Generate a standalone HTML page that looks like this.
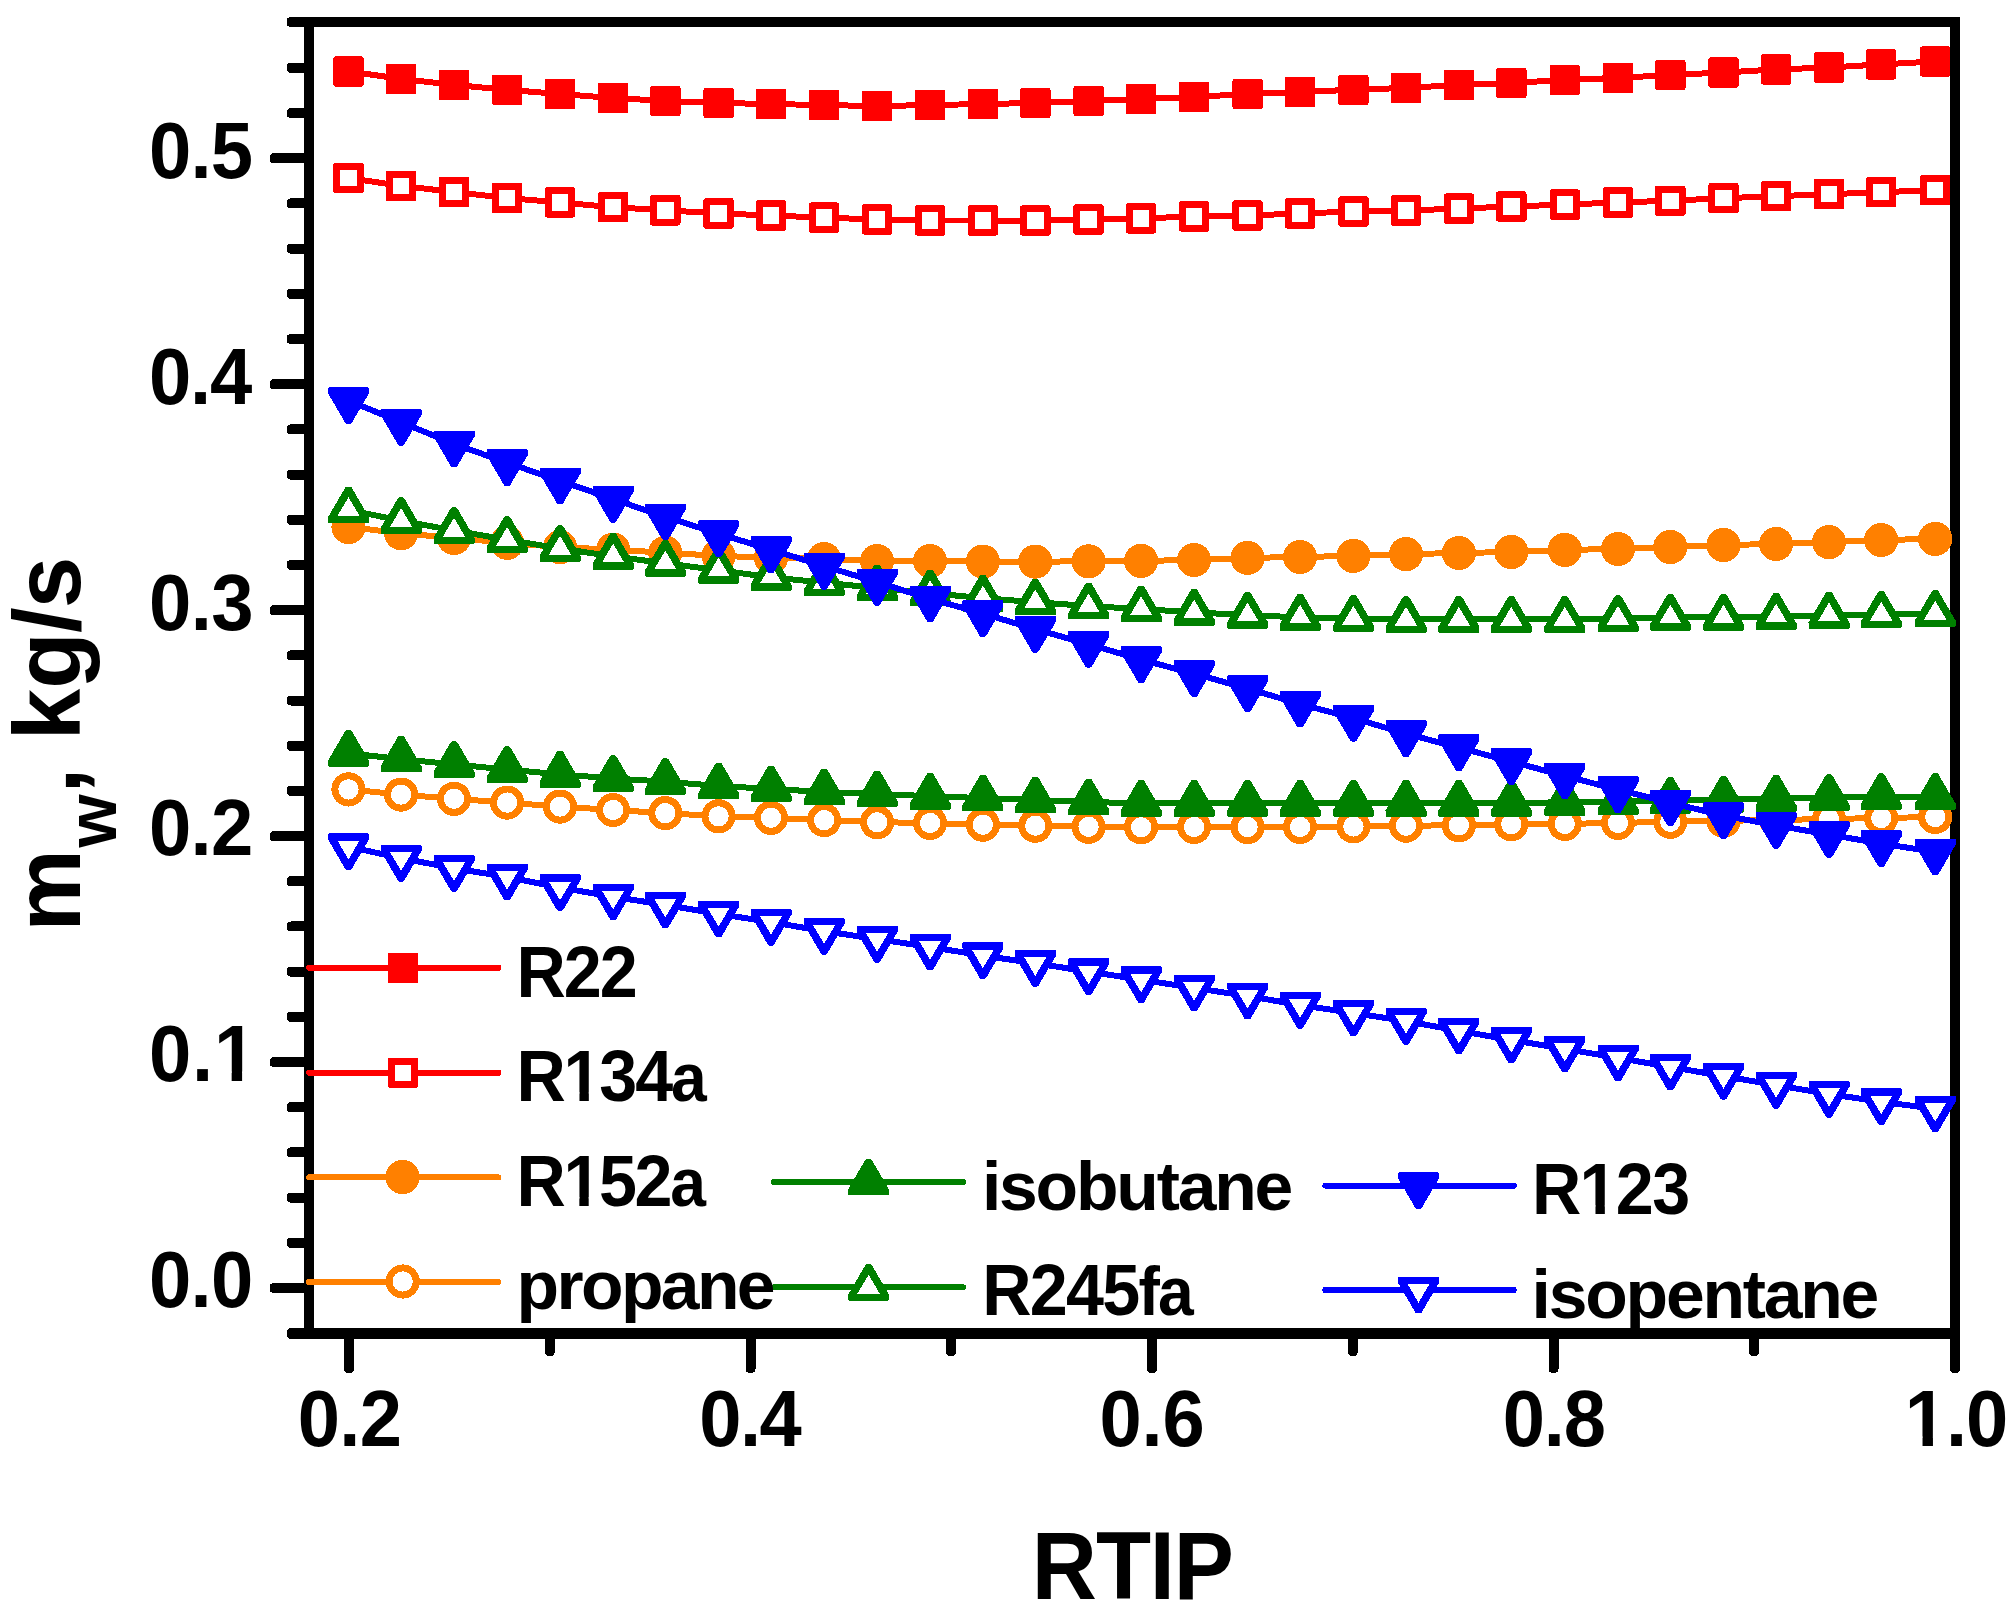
<!DOCTYPE html>
<html lang="en"><head><meta charset="utf-8"><title>m_w vs RTIP</title>
<style>html,body{margin:0;padding:0;background:#fff}body{width:2012px;height:1614px;overflow:hidden}svg{display:block}</style>
</head><body>
<svg width="2012" height="1614" viewBox="0 0 2012 1614" shape-rendering="crispEdges">
<rect width="2012" height="1614" fill="#ffffff"/>
<g fill="#000000">
<rect x="286.8" y="1328.25" width="27.2" height="10.5" rx="4"/>
<rect x="269.8" y="1283.00" width="44.2" height="10" rx="4"/>
<rect x="286.8" y="1237.81" width="27.2" height="10" rx="4"/>
<rect x="286.8" y="1192.62" width="27.2" height="10" rx="4"/>
<rect x="286.8" y="1147.43" width="27.2" height="10" rx="4"/>
<rect x="286.8" y="1102.24" width="27.2" height="10" rx="4"/>
<rect x="269.8" y="1057.05" width="44.2" height="10" rx="4"/>
<rect x="286.8" y="1011.86" width="27.2" height="10" rx="4"/>
<rect x="286.8" y="966.67" width="27.2" height="10" rx="4"/>
<rect x="286.8" y="921.48" width="27.2" height="10" rx="4"/>
<rect x="286.8" y="876.29" width="27.2" height="10" rx="4"/>
<rect x="269.8" y="831.10" width="44.2" height="10" rx="4"/>
<rect x="286.8" y="785.91" width="27.2" height="10" rx="4"/>
<rect x="286.8" y="740.72" width="27.2" height="10" rx="4"/>
<rect x="286.8" y="695.53" width="27.2" height="10" rx="4"/>
<rect x="286.8" y="650.34" width="27.2" height="10" rx="4"/>
<rect x="269.8" y="605.15" width="44.2" height="10" rx="4"/>
<rect x="286.8" y="559.96" width="27.2" height="10" rx="4"/>
<rect x="286.8" y="514.77" width="27.2" height="10" rx="4"/>
<rect x="286.8" y="469.58" width="27.2" height="10" rx="4"/>
<rect x="286.8" y="424.39" width="27.2" height="10" rx="4"/>
<rect x="269.8" y="379.20" width="44.2" height="10" rx="4"/>
<rect x="286.8" y="334.01" width="27.2" height="10" rx="4"/>
<rect x="286.8" y="288.82" width="27.2" height="10" rx="4"/>
<rect x="286.8" y="243.63" width="27.2" height="10" rx="4"/>
<rect x="286.8" y="198.44" width="27.2" height="10" rx="4"/>
<rect x="269.8" y="153.25" width="44.2" height="10" rx="4"/>
<rect x="286.8" y="108.06" width="27.2" height="10" rx="4"/>
<rect x="286.8" y="62.87" width="27.2" height="10" rx="4"/>
<rect x="286.8" y="17.00" width="27.2" height="10" rx="4"/>
<rect x="344.00" y="1328.5" width="10" height="44.3" rx="4"/>
<rect x="544.75" y="1328.5" width="10" height="27.3" rx="4"/>
<rect x="745.50" y="1328.5" width="10" height="44.3" rx="4"/>
<rect x="946.25" y="1328.5" width="10" height="27.3" rx="4"/>
<rect x="1147.00" y="1328.5" width="10" height="44.3" rx="4"/>
<rect x="1347.75" y="1328.5" width="10" height="27.3" rx="4"/>
<rect x="1548.50" y="1328.5" width="10" height="44.3" rx="4"/>
<rect x="1749.25" y="1328.5" width="10" height="27.3" rx="4"/>
<rect x="1950.00" y="1328.5" width="10" height="44.3" rx="4"/>
<rect x="304.0" y="17.0" width="10" height="1321.75"/>
<rect x="1950.0" y="17.0" width="10" height="1316.5" />
<rect x="309.0" y="17.0" width="1651.0" height="10" rx="2"/>
<rect x="309.0" y="1328.25" width="1651.0" height="10.5"/>
</g>
<polyline points="348.5,71.4 401.1,78.9 454.0,84.9 507.1,89.8 560.0,94.0 613.1,98.0 665.3,100.9 718.6,103.0 771.0,104.0 824.1,105.1 877.1,106.0 930.1,105.1 982.9,104.0 1035.3,103.0 1088.6,100.9 1141.1,99.0 1194.1,96.9 1247.6,94.0 1300.1,91.9 1353.4,89.8 1406.0,87.9 1458.9,85.0 1511.3,82.9 1564.8,80.0 1618.0,77.9 1670.3,75.0 1723.5,72.5 1776.1,69.5 1829.0,67.5 1881.2,64.4 1935.2,61.5" fill="none" stroke="#ff0000" stroke-width="6.0" stroke-linejoin="round"/>
<g><rect x="333.30" y="56.20" width="30.4" height="30.4" rx="2.2" fill="#ff0000"/><rect x="385.90" y="63.70" width="30.4" height="30.4" rx="2.2" fill="#ff0000"/><rect x="438.80" y="69.70" width="30.4" height="30.4" rx="2.2" fill="#ff0000"/><rect x="491.90" y="74.60" width="30.4" height="30.4" rx="2.2" fill="#ff0000"/><rect x="544.80" y="78.80" width="30.4" height="30.4" rx="2.2" fill="#ff0000"/><rect x="597.90" y="82.80" width="30.4" height="30.4" rx="2.2" fill="#ff0000"/><rect x="650.10" y="85.70" width="30.4" height="30.4" rx="2.2" fill="#ff0000"/><rect x="703.40" y="87.80" width="30.4" height="30.4" rx="2.2" fill="#ff0000"/><rect x="755.80" y="88.80" width="30.4" height="30.4" rx="2.2" fill="#ff0000"/><rect x="808.90" y="89.90" width="30.4" height="30.4" rx="2.2" fill="#ff0000"/><rect x="861.90" y="90.80" width="30.4" height="30.4" rx="2.2" fill="#ff0000"/><rect x="914.90" y="89.90" width="30.4" height="30.4" rx="2.2" fill="#ff0000"/><rect x="967.70" y="88.80" width="30.4" height="30.4" rx="2.2" fill="#ff0000"/><rect x="1020.10" y="87.80" width="30.4" height="30.4" rx="2.2" fill="#ff0000"/><rect x="1073.40" y="85.70" width="30.4" height="30.4" rx="2.2" fill="#ff0000"/><rect x="1125.90" y="83.80" width="30.4" height="30.4" rx="2.2" fill="#ff0000"/><rect x="1178.90" y="81.70" width="30.4" height="30.4" rx="2.2" fill="#ff0000"/><rect x="1232.40" y="78.80" width="30.4" height="30.4" rx="2.2" fill="#ff0000"/><rect x="1284.90" y="76.70" width="30.4" height="30.4" rx="2.2" fill="#ff0000"/><rect x="1338.20" y="74.60" width="30.4" height="30.4" rx="2.2" fill="#ff0000"/><rect x="1390.80" y="72.70" width="30.4" height="30.4" rx="2.2" fill="#ff0000"/><rect x="1443.70" y="69.80" width="30.4" height="30.4" rx="2.2" fill="#ff0000"/><rect x="1496.10" y="67.70" width="30.4" height="30.4" rx="2.2" fill="#ff0000"/><rect x="1549.60" y="64.80" width="30.4" height="30.4" rx="2.2" fill="#ff0000"/><rect x="1602.80" y="62.70" width="30.4" height="30.4" rx="2.2" fill="#ff0000"/><rect x="1655.10" y="59.80" width="30.4" height="30.4" rx="2.2" fill="#ff0000"/><rect x="1708.30" y="57.30" width="30.4" height="30.4" rx="2.2" fill="#ff0000"/><rect x="1760.90" y="54.30" width="30.4" height="30.4" rx="2.2" fill="#ff0000"/><rect x="1813.80" y="52.30" width="30.4" height="30.4" rx="2.2" fill="#ff0000"/><rect x="1866.00" y="49.20" width="30.4" height="30.4" rx="2.2" fill="#ff0000"/><rect x="1920.00" y="46.30" width="30.4" height="30.4" rx="2.2" fill="#ff0000"/></g>
<polyline points="348.5,178.0 401.1,185.9 454.0,192.0 507.1,198.0 560.0,202.4 613.1,207.2 665.3,210.3 718.6,213.4 771.0,215.5 824.1,217.6 877.1,219.5 930.1,220.5 982.9,220.5 1035.3,220.5 1088.6,219.5 1141.1,218.4 1194.1,216.5 1247.6,215.5 1300.1,213.5 1353.4,211.5 1406.0,210.5 1458.9,208.6 1511.3,206.5 1564.8,204.6 1618.0,202.5 1670.3,200.7 1723.5,198.2 1776.1,196.2 1829.0,194.2 1881.2,192.2 1935.2,190.1" fill="none" stroke="#ff0000" stroke-width="6.0" stroke-linejoin="round"/>
<g><rect x="333.30" y="162.80" width="30.4" height="30.4" rx="2.2" fill="#ff0000"/><rect x="340.30" y="169.80" width="16.4" height="16.4" fill="#ffffff"/><rect x="385.90" y="170.70" width="30.4" height="30.4" rx="2.2" fill="#ff0000"/><rect x="392.90" y="177.70" width="16.4" height="16.4" fill="#ffffff"/><rect x="438.80" y="176.80" width="30.4" height="30.4" rx="2.2" fill="#ff0000"/><rect x="445.80" y="183.80" width="16.4" height="16.4" fill="#ffffff"/><rect x="491.90" y="182.80" width="30.4" height="30.4" rx="2.2" fill="#ff0000"/><rect x="498.90" y="189.80" width="16.4" height="16.4" fill="#ffffff"/><rect x="544.80" y="187.20" width="30.4" height="30.4" rx="2.2" fill="#ff0000"/><rect x="551.80" y="194.20" width="16.4" height="16.4" fill="#ffffff"/><rect x="597.90" y="192.00" width="30.4" height="30.4" rx="2.2" fill="#ff0000"/><rect x="604.90" y="199.00" width="16.4" height="16.4" fill="#ffffff"/><rect x="650.10" y="195.10" width="30.4" height="30.4" rx="2.2" fill="#ff0000"/><rect x="657.10" y="202.10" width="16.4" height="16.4" fill="#ffffff"/><rect x="703.40" y="198.20" width="30.4" height="30.4" rx="2.2" fill="#ff0000"/><rect x="710.40" y="205.20" width="16.4" height="16.4" fill="#ffffff"/><rect x="755.80" y="200.30" width="30.4" height="30.4" rx="2.2" fill="#ff0000"/><rect x="762.80" y="207.30" width="16.4" height="16.4" fill="#ffffff"/><rect x="808.90" y="202.40" width="30.4" height="30.4" rx="2.2" fill="#ff0000"/><rect x="815.90" y="209.40" width="16.4" height="16.4" fill="#ffffff"/><rect x="861.90" y="204.30" width="30.4" height="30.4" rx="2.2" fill="#ff0000"/><rect x="868.90" y="211.30" width="16.4" height="16.4" fill="#ffffff"/><rect x="914.90" y="205.30" width="30.4" height="30.4" rx="2.2" fill="#ff0000"/><rect x="921.90" y="212.30" width="16.4" height="16.4" fill="#ffffff"/><rect x="967.70" y="205.30" width="30.4" height="30.4" rx="2.2" fill="#ff0000"/><rect x="974.70" y="212.30" width="16.4" height="16.4" fill="#ffffff"/><rect x="1020.10" y="205.30" width="30.4" height="30.4" rx="2.2" fill="#ff0000"/><rect x="1027.10" y="212.30" width="16.4" height="16.4" fill="#ffffff"/><rect x="1073.40" y="204.30" width="30.4" height="30.4" rx="2.2" fill="#ff0000"/><rect x="1080.40" y="211.30" width="16.4" height="16.4" fill="#ffffff"/><rect x="1125.90" y="203.20" width="30.4" height="30.4" rx="2.2" fill="#ff0000"/><rect x="1132.90" y="210.20" width="16.4" height="16.4" fill="#ffffff"/><rect x="1178.90" y="201.30" width="30.4" height="30.4" rx="2.2" fill="#ff0000"/><rect x="1185.90" y="208.30" width="16.4" height="16.4" fill="#ffffff"/><rect x="1232.40" y="200.30" width="30.4" height="30.4" rx="2.2" fill="#ff0000"/><rect x="1239.40" y="207.30" width="16.4" height="16.4" fill="#ffffff"/><rect x="1284.90" y="198.30" width="30.4" height="30.4" rx="2.2" fill="#ff0000"/><rect x="1291.90" y="205.30" width="16.4" height="16.4" fill="#ffffff"/><rect x="1338.20" y="196.30" width="30.4" height="30.4" rx="2.2" fill="#ff0000"/><rect x="1345.20" y="203.30" width="16.4" height="16.4" fill="#ffffff"/><rect x="1390.80" y="195.30" width="30.4" height="30.4" rx="2.2" fill="#ff0000"/><rect x="1397.80" y="202.30" width="16.4" height="16.4" fill="#ffffff"/><rect x="1443.70" y="193.40" width="30.4" height="30.4" rx="2.2" fill="#ff0000"/><rect x="1450.70" y="200.40" width="16.4" height="16.4" fill="#ffffff"/><rect x="1496.10" y="191.30" width="30.4" height="30.4" rx="2.2" fill="#ff0000"/><rect x="1503.10" y="198.30" width="16.4" height="16.4" fill="#ffffff"/><rect x="1549.60" y="189.40" width="30.4" height="30.4" rx="2.2" fill="#ff0000"/><rect x="1556.60" y="196.40" width="16.4" height="16.4" fill="#ffffff"/><rect x="1602.80" y="187.30" width="30.4" height="30.4" rx="2.2" fill="#ff0000"/><rect x="1609.80" y="194.30" width="16.4" height="16.4" fill="#ffffff"/><rect x="1655.10" y="185.50" width="30.4" height="30.4" rx="2.2" fill="#ff0000"/><rect x="1662.10" y="192.50" width="16.4" height="16.4" fill="#ffffff"/><rect x="1708.30" y="183.00" width="30.4" height="30.4" rx="2.2" fill="#ff0000"/><rect x="1715.30" y="190.00" width="16.4" height="16.4" fill="#ffffff"/><rect x="1760.90" y="181.00" width="30.4" height="30.4" rx="2.2" fill="#ff0000"/><rect x="1767.90" y="188.00" width="16.4" height="16.4" fill="#ffffff"/><rect x="1813.80" y="179.00" width="30.4" height="30.4" rx="2.2" fill="#ff0000"/><rect x="1820.80" y="186.00" width="16.4" height="16.4" fill="#ffffff"/><rect x="1866.00" y="177.00" width="30.4" height="30.4" rx="2.2" fill="#ff0000"/><rect x="1873.00" y="184.00" width="16.4" height="16.4" fill="#ffffff"/><rect x="1920.00" y="174.90" width="30.4" height="30.4" rx="2.2" fill="#ff0000"/><rect x="1927.00" y="181.90" width="16.4" height="16.4" fill="#ffffff"/></g>
<polyline points="348.5,527.0 401.1,533.2 454.0,538.0 507.1,542.8 560.0,547.2 613.1,549.6 665.3,552.7 718.6,555.9 771.0,557.6 824.1,559.0 877.1,561.0 930.1,561.0 982.9,561.6 1035.3,561.6 1088.6,561.4 1141.1,560.9 1194.1,560.0 1247.6,557.9 1300.1,557.0 1353.4,555.9 1406.0,554.1 1458.9,553.0 1511.3,552.0 1564.8,549.9 1618.0,549.0 1670.3,547.0 1723.5,545.0 1776.1,544.0 1829.0,542.1 1881.2,540.0 1935.2,538.9" fill="none" stroke="#ff8000" stroke-width="6.0" stroke-linejoin="round"/>
<g><circle cx="348.50" cy="527.00" r="17.1" fill="#ff8000"/><circle cx="401.10" cy="533.20" r="17.1" fill="#ff8000"/><circle cx="454.00" cy="538.00" r="17.1" fill="#ff8000"/><circle cx="507.10" cy="542.80" r="17.1" fill="#ff8000"/><circle cx="560.00" cy="547.20" r="17.1" fill="#ff8000"/><circle cx="613.10" cy="549.60" r="17.1" fill="#ff8000"/><circle cx="665.30" cy="552.70" r="17.1" fill="#ff8000"/><circle cx="718.60" cy="555.90" r="17.1" fill="#ff8000"/><circle cx="771.00" cy="557.60" r="17.1" fill="#ff8000"/><circle cx="824.10" cy="559.00" r="17.1" fill="#ff8000"/><circle cx="877.10" cy="561.00" r="17.1" fill="#ff8000"/><circle cx="930.10" cy="561.00" r="17.1" fill="#ff8000"/><circle cx="982.90" cy="561.60" r="17.1" fill="#ff8000"/><circle cx="1035.30" cy="561.60" r="17.1" fill="#ff8000"/><circle cx="1088.60" cy="561.40" r="17.1" fill="#ff8000"/><circle cx="1141.10" cy="560.90" r="17.1" fill="#ff8000"/><circle cx="1194.10" cy="560.00" r="17.1" fill="#ff8000"/><circle cx="1247.60" cy="557.90" r="17.1" fill="#ff8000"/><circle cx="1300.10" cy="557.00" r="17.1" fill="#ff8000"/><circle cx="1353.40" cy="555.90" r="17.1" fill="#ff8000"/><circle cx="1406.00" cy="554.10" r="17.1" fill="#ff8000"/><circle cx="1458.90" cy="553.00" r="17.1" fill="#ff8000"/><circle cx="1511.30" cy="552.00" r="17.1" fill="#ff8000"/><circle cx="1564.80" cy="549.90" r="17.1" fill="#ff8000"/><circle cx="1618.00" cy="549.00" r="17.1" fill="#ff8000"/><circle cx="1670.30" cy="547.00" r="17.1" fill="#ff8000"/><circle cx="1723.50" cy="545.00" r="17.1" fill="#ff8000"/><circle cx="1776.10" cy="544.00" r="17.1" fill="#ff8000"/><circle cx="1829.00" cy="542.10" r="17.1" fill="#ff8000"/><circle cx="1881.20" cy="540.00" r="17.1" fill="#ff8000"/><circle cx="1935.20" cy="538.90" r="17.1" fill="#ff8000"/></g>
<polyline points="348.5,789.4 401.1,794.6 454.0,798.8 507.1,802.6 560.0,806.6 613.1,810.0 665.3,813.1 718.6,816.3 771.0,817.8 824.1,820.1 877.1,822.2 930.1,823.0 982.9,824.7 1035.3,825.7 1088.6,826.8 1141.1,827.2 1194.1,827.0 1247.6,827.0 1300.1,827.0 1353.4,826.4 1406.0,825.7 1458.9,825.3 1511.3,824.3 1564.8,823.9 1618.0,822.9 1670.3,821.8 1723.5,820.8 1776.1,820.0 1829.0,819.0 1881.2,818.0 1935.2,817.0" fill="none" stroke="#ff8000" stroke-width="6.0" stroke-linejoin="round"/>
<g><circle cx="348.50" cy="789.40" r="17.1" fill="#ff8000"/><circle cx="348.50" cy="789.40" r="10.15" fill="#ffffff"/><circle cx="401.10" cy="794.60" r="17.1" fill="#ff8000"/><circle cx="401.10" cy="794.60" r="10.15" fill="#ffffff"/><circle cx="454.00" cy="798.80" r="17.1" fill="#ff8000"/><circle cx="454.00" cy="798.80" r="10.15" fill="#ffffff"/><circle cx="507.10" cy="802.60" r="17.1" fill="#ff8000"/><circle cx="507.10" cy="802.60" r="10.15" fill="#ffffff"/><circle cx="560.00" cy="806.60" r="17.1" fill="#ff8000"/><circle cx="560.00" cy="806.60" r="10.15" fill="#ffffff"/><circle cx="613.10" cy="810.00" r="17.1" fill="#ff8000"/><circle cx="613.10" cy="810.00" r="10.15" fill="#ffffff"/><circle cx="665.30" cy="813.10" r="17.1" fill="#ff8000"/><circle cx="665.30" cy="813.10" r="10.15" fill="#ffffff"/><circle cx="718.60" cy="816.30" r="17.1" fill="#ff8000"/><circle cx="718.60" cy="816.30" r="10.15" fill="#ffffff"/><circle cx="771.00" cy="817.80" r="17.1" fill="#ff8000"/><circle cx="771.00" cy="817.80" r="10.15" fill="#ffffff"/><circle cx="824.10" cy="820.10" r="17.1" fill="#ff8000"/><circle cx="824.10" cy="820.10" r="10.15" fill="#ffffff"/><circle cx="877.10" cy="822.20" r="17.1" fill="#ff8000"/><circle cx="877.10" cy="822.20" r="10.15" fill="#ffffff"/><circle cx="930.10" cy="823.00" r="17.1" fill="#ff8000"/><circle cx="930.10" cy="823.00" r="10.15" fill="#ffffff"/><circle cx="982.90" cy="824.70" r="17.1" fill="#ff8000"/><circle cx="982.90" cy="824.70" r="10.15" fill="#ffffff"/><circle cx="1035.30" cy="825.70" r="17.1" fill="#ff8000"/><circle cx="1035.30" cy="825.70" r="10.15" fill="#ffffff"/><circle cx="1088.60" cy="826.80" r="17.1" fill="#ff8000"/><circle cx="1088.60" cy="826.80" r="10.15" fill="#ffffff"/><circle cx="1141.10" cy="827.20" r="17.1" fill="#ff8000"/><circle cx="1141.10" cy="827.20" r="10.15" fill="#ffffff"/><circle cx="1194.10" cy="827.00" r="17.1" fill="#ff8000"/><circle cx="1194.10" cy="827.00" r="10.15" fill="#ffffff"/><circle cx="1247.60" cy="827.00" r="17.1" fill="#ff8000"/><circle cx="1247.60" cy="827.00" r="10.15" fill="#ffffff"/><circle cx="1300.10" cy="827.00" r="17.1" fill="#ff8000"/><circle cx="1300.10" cy="827.00" r="10.15" fill="#ffffff"/><circle cx="1353.40" cy="826.40" r="17.1" fill="#ff8000"/><circle cx="1353.40" cy="826.40" r="10.15" fill="#ffffff"/><circle cx="1406.00" cy="825.70" r="17.1" fill="#ff8000"/><circle cx="1406.00" cy="825.70" r="10.15" fill="#ffffff"/><circle cx="1458.90" cy="825.30" r="17.1" fill="#ff8000"/><circle cx="1458.90" cy="825.30" r="10.15" fill="#ffffff"/><circle cx="1511.30" cy="824.30" r="17.1" fill="#ff8000"/><circle cx="1511.30" cy="824.30" r="10.15" fill="#ffffff"/><circle cx="1564.80" cy="823.90" r="17.1" fill="#ff8000"/><circle cx="1564.80" cy="823.90" r="10.15" fill="#ffffff"/><circle cx="1618.00" cy="822.90" r="17.1" fill="#ff8000"/><circle cx="1618.00" cy="822.90" r="10.15" fill="#ffffff"/><circle cx="1670.30" cy="821.80" r="17.1" fill="#ff8000"/><circle cx="1670.30" cy="821.80" r="10.15" fill="#ffffff"/><circle cx="1723.50" cy="820.80" r="17.1" fill="#ff8000"/><circle cx="1723.50" cy="820.80" r="10.15" fill="#ffffff"/><circle cx="1776.10" cy="820.00" r="17.1" fill="#ff8000"/><circle cx="1776.10" cy="820.00" r="10.15" fill="#ffffff"/><circle cx="1829.00" cy="819.00" r="17.1" fill="#ff8000"/><circle cx="1829.00" cy="819.00" r="10.15" fill="#ffffff"/><circle cx="1881.20" cy="818.00" r="17.1" fill="#ff8000"/><circle cx="1881.20" cy="818.00" r="10.15" fill="#ffffff"/><circle cx="1935.20" cy="817.00" r="17.1" fill="#ff8000"/><circle cx="1935.20" cy="817.00" r="10.15" fill="#ffffff"/></g>
<polyline points="348.5,753.3 401.1,759.1 454.0,764.4 507.1,769.5 560.0,774.3 613.1,778.5 665.3,781.6 718.6,786.0 771.0,788.9 824.1,792.0 877.1,793.9 930.1,796.2 982.9,798.1 1035.3,800.0 1088.6,802.0 1141.1,803.3 1194.1,803.2 1247.6,803.2 1300.1,803.2 1353.4,803.2 1406.0,803.2 1458.9,803.2 1511.3,803.2 1564.8,802.2 1618.0,801.7 1670.3,800.5 1723.5,799.3 1776.1,798.2 1829.0,797.5 1881.2,796.8 1935.2,796.5" fill="none" stroke="#008000" stroke-width="6.0" stroke-linejoin="round"/>
<g><path d="M346.80 729.90L350.20 729.90L351.60 730.80L369.00 760.60L369.00 765.80L368.20 766.60L328.80 766.60L328.00 765.80L328.00 760.60L345.40 730.80Z" fill="#008000"/><path d="M399.40 735.70L402.80 735.70L404.20 736.60L421.60 766.40L421.60 771.60L420.80 772.40L381.40 772.40L380.60 771.60L380.60 766.40L398.00 736.60Z" fill="#008000"/><path d="M452.30 741.00L455.70 741.00L457.10 741.90L474.50 771.70L474.50 776.90L473.70 777.70L434.30 777.70L433.50 776.90L433.50 771.70L450.90 741.90Z" fill="#008000"/><path d="M505.40 746.10L508.80 746.10L510.20 747.00L527.60 776.80L527.60 782.00L526.80 782.80L487.40 782.80L486.60 782.00L486.60 776.80L504.00 747.00Z" fill="#008000"/><path d="M558.30 750.90L561.70 750.90L563.10 751.80L580.50 781.60L580.50 786.80L579.70 787.60L540.30 787.60L539.50 786.80L539.50 781.60L556.90 751.80Z" fill="#008000"/><path d="M611.40 755.10L614.80 755.10L616.20 756.00L633.60 785.80L633.60 791.00L632.80 791.80L593.40 791.80L592.60 791.00L592.60 785.80L610.00 756.00Z" fill="#008000"/><path d="M663.60 758.20L667.00 758.20L668.40 759.10L685.80 788.90L685.80 794.10L685.00 794.90L645.60 794.90L644.80 794.10L644.80 788.90L662.20 759.10Z" fill="#008000"/><path d="M716.90 762.60L720.30 762.60L721.70 763.50L739.10 793.30L739.10 798.50L738.30 799.30L698.90 799.30L698.10 798.50L698.10 793.30L715.50 763.50Z" fill="#008000"/><path d="M769.30 765.50L772.70 765.50L774.10 766.40L791.50 796.20L791.50 801.40L790.70 802.20L751.30 802.20L750.50 801.40L750.50 796.20L767.90 766.40Z" fill="#008000"/><path d="M822.40 768.60L825.80 768.60L827.20 769.50L844.60 799.30L844.60 804.50L843.80 805.30L804.40 805.30L803.60 804.50L803.60 799.30L821.00 769.50Z" fill="#008000"/><path d="M875.40 770.50L878.80 770.50L880.20 771.40L897.60 801.20L897.60 806.40L896.80 807.20L857.40 807.20L856.60 806.40L856.60 801.20L874.00 771.40Z" fill="#008000"/><path d="M928.40 772.80L931.80 772.80L933.20 773.70L950.60 803.50L950.60 808.70L949.80 809.50L910.40 809.50L909.60 808.70L909.60 803.50L927.00 773.70Z" fill="#008000"/><path d="M981.20 774.70L984.60 774.70L986.00 775.60L1003.40 805.40L1003.40 810.60L1002.60 811.40L963.20 811.40L962.40 810.60L962.40 805.40L979.80 775.60Z" fill="#008000"/><path d="M1033.60 776.60L1037.00 776.60L1038.40 777.50L1055.80 807.30L1055.80 812.50L1055.00 813.30L1015.60 813.30L1014.80 812.50L1014.80 807.30L1032.20 777.50Z" fill="#008000"/><path d="M1086.90 778.60L1090.30 778.60L1091.70 779.50L1109.10 809.30L1109.10 814.50L1108.30 815.30L1068.90 815.30L1068.10 814.50L1068.10 809.30L1085.50 779.50Z" fill="#008000"/><path d="M1139.40 779.90L1142.80 779.90L1144.20 780.80L1161.60 810.60L1161.60 815.80L1160.80 816.60L1121.40 816.60L1120.60 815.80L1120.60 810.60L1138.00 780.80Z" fill="#008000"/><path d="M1192.40 779.80L1195.80 779.80L1197.20 780.70L1214.60 810.50L1214.60 815.70L1213.80 816.50L1174.40 816.50L1173.60 815.70L1173.60 810.50L1191.00 780.70Z" fill="#008000"/><path d="M1245.90 779.80L1249.30 779.80L1250.70 780.70L1268.10 810.50L1268.10 815.70L1267.30 816.50L1227.90 816.50L1227.10 815.70L1227.10 810.50L1244.50 780.70Z" fill="#008000"/><path d="M1298.40 779.80L1301.80 779.80L1303.20 780.70L1320.60 810.50L1320.60 815.70L1319.80 816.50L1280.40 816.50L1279.60 815.70L1279.60 810.50L1297.00 780.70Z" fill="#008000"/><path d="M1351.70 779.80L1355.10 779.80L1356.50 780.70L1373.90 810.50L1373.90 815.70L1373.10 816.50L1333.70 816.50L1332.90 815.70L1332.90 810.50L1350.30 780.70Z" fill="#008000"/><path d="M1404.30 779.80L1407.70 779.80L1409.10 780.70L1426.50 810.50L1426.50 815.70L1425.70 816.50L1386.30 816.50L1385.50 815.70L1385.50 810.50L1402.90 780.70Z" fill="#008000"/><path d="M1457.20 779.80L1460.60 779.80L1462.00 780.70L1479.40 810.50L1479.40 815.70L1478.60 816.50L1439.20 816.50L1438.40 815.70L1438.40 810.50L1455.80 780.70Z" fill="#008000"/><path d="M1509.60 779.80L1513.00 779.80L1514.40 780.70L1531.80 810.50L1531.80 815.70L1531.00 816.50L1491.60 816.50L1490.80 815.70L1490.80 810.50L1508.20 780.70Z" fill="#008000"/><path d="M1563.10 778.80L1566.50 778.80L1567.90 779.70L1585.30 809.50L1585.30 814.70L1584.50 815.50L1545.10 815.50L1544.30 814.70L1544.30 809.50L1561.70 779.70Z" fill="#008000"/><path d="M1616.30 778.30L1619.70 778.30L1621.10 779.20L1638.50 809.00L1638.50 814.20L1637.70 815.00L1598.30 815.00L1597.50 814.20L1597.50 809.00L1614.90 779.20Z" fill="#008000"/><path d="M1668.60 777.10L1672.00 777.10L1673.40 778.00L1690.80 807.80L1690.80 813.00L1690.00 813.80L1650.60 813.80L1649.80 813.00L1649.80 807.80L1667.20 778.00Z" fill="#008000"/><path d="M1721.80 775.90L1725.20 775.90L1726.60 776.80L1744.00 806.60L1744.00 811.80L1743.20 812.60L1703.80 812.60L1703.00 811.80L1703.00 806.60L1720.40 776.80Z" fill="#008000"/><path d="M1774.40 774.80L1777.80 774.80L1779.20 775.70L1796.60 805.50L1796.60 810.70L1795.80 811.50L1756.40 811.50L1755.60 810.70L1755.60 805.50L1773.00 775.70Z" fill="#008000"/><path d="M1827.30 774.10L1830.70 774.10L1832.10 775.00L1849.50 804.80L1849.50 810.00L1848.70 810.80L1809.30 810.80L1808.50 810.00L1808.50 804.80L1825.90 775.00Z" fill="#008000"/><path d="M1879.50 773.40L1882.90 773.40L1884.30 774.30L1901.70 804.10L1901.70 809.30L1900.90 810.10L1861.50 810.10L1860.70 809.30L1860.70 804.10L1878.10 774.30Z" fill="#008000"/><path d="M1933.50 773.10L1936.90 773.10L1938.30 774.00L1955.70 803.80L1955.70 809.00L1954.90 809.80L1915.50 809.80L1914.70 809.00L1914.70 803.80L1932.10 774.00Z" fill="#008000"/></g>
<polyline points="348.5,509.9 401.1,520.7 454.0,530.5 507.1,539.7 560.0,548.5 613.1,556.3 665.3,563.3 718.6,570.2 771.0,577.3 824.1,582.6 877.1,588.0 930.1,593.0 982.9,598.2 1035.3,602.1 1088.6,606.1 1141.1,609.0 1194.1,612.3 1247.6,615.2 1300.1,617.3 1353.4,618.4 1406.0,619.4 1458.9,619.4 1511.3,619.4 1564.8,619.4 1618.0,618.4 1670.3,617.3 1723.5,617.3 1776.1,616.3 1829.0,615.2 1881.2,614.4 1935.2,613.4" fill="none" stroke="#008000" stroke-width="6.0" stroke-linejoin="round"/>
<g><path d="M346.80 486.50L350.20 486.50L351.60 487.40L369.00 517.20L369.00 522.40L368.20 523.20L328.80 523.20L328.00 522.40L328.00 517.20L345.40 487.40Z" fill="#008000"/><path d="M348.50 497.30L359.60 516.00L337.40 516.00Z" fill="#ffffff"/><path d="M399.40 497.30L402.80 497.30L404.20 498.20L421.60 528.00L421.60 533.20L420.80 534.00L381.40 534.00L380.60 533.20L380.60 528.00L398.00 498.20Z" fill="#008000"/><path d="M401.10 508.10L412.20 526.80L390.00 526.80Z" fill="#ffffff"/><path d="M452.30 507.10L455.70 507.10L457.10 508.00L474.50 537.80L474.50 543.00L473.70 543.80L434.30 543.80L433.50 543.00L433.50 537.80L450.90 508.00Z" fill="#008000"/><path d="M454.00 517.90L465.10 536.60L442.90 536.60Z" fill="#ffffff"/><path d="M505.40 516.30L508.80 516.30L510.20 517.20L527.60 547.00L527.60 552.20L526.80 553.00L487.40 553.00L486.60 552.20L486.60 547.00L504.00 517.20Z" fill="#008000"/><path d="M507.10 527.10L518.20 545.80L496.00 545.80Z" fill="#ffffff"/><path d="M558.30 525.10L561.70 525.10L563.10 526.00L580.50 555.80L580.50 561.00L579.70 561.80L540.30 561.80L539.50 561.00L539.50 555.80L556.90 526.00Z" fill="#008000"/><path d="M560.00 535.90L571.10 554.60L548.90 554.60Z" fill="#ffffff"/><path d="M611.40 532.90L614.80 532.90L616.20 533.80L633.60 563.60L633.60 568.80L632.80 569.60L593.40 569.60L592.60 568.80L592.60 563.60L610.00 533.80Z" fill="#008000"/><path d="M613.10 543.70L624.20 562.40L602.00 562.40Z" fill="#ffffff"/><path d="M663.60 539.90L667.00 539.90L668.40 540.80L685.80 570.60L685.80 575.80L685.00 576.60L645.60 576.60L644.80 575.80L644.80 570.60L662.20 540.80Z" fill="#008000"/><path d="M665.30 550.70L676.40 569.40L654.20 569.40Z" fill="#ffffff"/><path d="M716.90 546.80L720.30 546.80L721.70 547.70L739.10 577.50L739.10 582.70L738.30 583.50L698.90 583.50L698.10 582.70L698.10 577.50L715.50 547.70Z" fill="#008000"/><path d="M718.60 557.60L729.70 576.30L707.50 576.30Z" fill="#ffffff"/><path d="M769.30 553.90L772.70 553.90L774.10 554.80L791.50 584.60L791.50 589.80L790.70 590.60L751.30 590.60L750.50 589.80L750.50 584.60L767.90 554.80Z" fill="#008000"/><path d="M771.00 564.70L782.10 583.40L759.90 583.40Z" fill="#ffffff"/><path d="M822.40 559.20L825.80 559.20L827.20 560.10L844.60 589.90L844.60 595.10L843.80 595.90L804.40 595.90L803.60 595.10L803.60 589.90L821.00 560.10Z" fill="#008000"/><path d="M824.10 570.00L835.20 588.70L813.00 588.70Z" fill="#ffffff"/><path d="M875.40 564.60L878.80 564.60L880.20 565.50L897.60 595.30L897.60 600.50L896.80 601.30L857.40 601.30L856.60 600.50L856.60 595.30L874.00 565.50Z" fill="#008000"/><path d="M877.10 575.40L888.20 594.10L866.00 594.10Z" fill="#ffffff"/><path d="M928.40 569.60L931.80 569.60L933.20 570.50L950.60 600.30L950.60 605.50L949.80 606.30L910.40 606.30L909.60 605.50L909.60 600.30L927.00 570.50Z" fill="#008000"/><path d="M930.10 580.40L941.20 599.10L919.00 599.10Z" fill="#ffffff"/><path d="M981.20 574.80L984.60 574.80L986.00 575.70L1003.40 605.50L1003.40 610.70L1002.60 611.50L963.20 611.50L962.40 610.70L962.40 605.50L979.80 575.70Z" fill="#008000"/><path d="M982.90 585.60L994.00 604.30L971.80 604.30Z" fill="#ffffff"/><path d="M1033.60 578.70L1037.00 578.70L1038.40 579.60L1055.80 609.40L1055.80 614.60L1055.00 615.40L1015.60 615.40L1014.80 614.60L1014.80 609.40L1032.20 579.60Z" fill="#008000"/><path d="M1035.30 589.50L1046.40 608.20L1024.20 608.20Z" fill="#ffffff"/><path d="M1086.90 582.70L1090.30 582.70L1091.70 583.60L1109.10 613.40L1109.10 618.60L1108.30 619.40L1068.90 619.40L1068.10 618.60L1068.10 613.40L1085.50 583.60Z" fill="#008000"/><path d="M1088.60 593.50L1099.70 612.20L1077.50 612.20Z" fill="#ffffff"/><path d="M1139.40 585.60L1142.80 585.60L1144.20 586.50L1161.60 616.30L1161.60 621.50L1160.80 622.30L1121.40 622.30L1120.60 621.50L1120.60 616.30L1138.00 586.50Z" fill="#008000"/><path d="M1141.10 596.40L1152.20 615.10L1130.00 615.10Z" fill="#ffffff"/><path d="M1192.40 588.90L1195.80 588.90L1197.20 589.80L1214.60 619.60L1214.60 624.80L1213.80 625.60L1174.40 625.60L1173.60 624.80L1173.60 619.60L1191.00 589.80Z" fill="#008000"/><path d="M1194.10 599.70L1205.20 618.40L1183.00 618.40Z" fill="#ffffff"/><path d="M1245.90 591.80L1249.30 591.80L1250.70 592.70L1268.10 622.50L1268.10 627.70L1267.30 628.50L1227.90 628.50L1227.10 627.70L1227.10 622.50L1244.50 592.70Z" fill="#008000"/><path d="M1247.60 602.60L1258.70 621.30L1236.50 621.30Z" fill="#ffffff"/><path d="M1298.40 593.90L1301.80 593.90L1303.20 594.80L1320.60 624.60L1320.60 629.80L1319.80 630.60L1280.40 630.60L1279.60 629.80L1279.60 624.60L1297.00 594.80Z" fill="#008000"/><path d="M1300.10 604.70L1311.20 623.40L1289.00 623.40Z" fill="#ffffff"/><path d="M1351.70 595.00L1355.10 595.00L1356.50 595.90L1373.90 625.70L1373.90 630.90L1373.10 631.70L1333.70 631.70L1332.90 630.90L1332.90 625.70L1350.30 595.90Z" fill="#008000"/><path d="M1353.40 605.80L1364.50 624.50L1342.30 624.50Z" fill="#ffffff"/><path d="M1404.30 596.00L1407.70 596.00L1409.10 596.90L1426.50 626.70L1426.50 631.90L1425.70 632.70L1386.30 632.70L1385.50 631.90L1385.50 626.70L1402.90 596.90Z" fill="#008000"/><path d="M1406.00 606.80L1417.10 625.50L1394.90 625.50Z" fill="#ffffff"/><path d="M1457.20 596.00L1460.60 596.00L1462.00 596.90L1479.40 626.70L1479.40 631.90L1478.60 632.70L1439.20 632.70L1438.40 631.90L1438.40 626.70L1455.80 596.90Z" fill="#008000"/><path d="M1458.90 606.80L1470.00 625.50L1447.80 625.50Z" fill="#ffffff"/><path d="M1509.60 596.00L1513.00 596.00L1514.40 596.90L1531.80 626.70L1531.80 631.90L1531.00 632.70L1491.60 632.70L1490.80 631.90L1490.80 626.70L1508.20 596.90Z" fill="#008000"/><path d="M1511.30 606.80L1522.40 625.50L1500.20 625.50Z" fill="#ffffff"/><path d="M1563.10 596.00L1566.50 596.00L1567.90 596.90L1585.30 626.70L1585.30 631.90L1584.50 632.70L1545.10 632.70L1544.30 631.90L1544.30 626.70L1561.70 596.90Z" fill="#008000"/><path d="M1564.80 606.80L1575.90 625.50L1553.70 625.50Z" fill="#ffffff"/><path d="M1616.30 595.00L1619.70 595.00L1621.10 595.90L1638.50 625.70L1638.50 630.90L1637.70 631.70L1598.30 631.70L1597.50 630.90L1597.50 625.70L1614.90 595.90Z" fill="#008000"/><path d="M1618.00 605.80L1629.10 624.50L1606.90 624.50Z" fill="#ffffff"/><path d="M1668.60 593.90L1672.00 593.90L1673.40 594.80L1690.80 624.60L1690.80 629.80L1690.00 630.60L1650.60 630.60L1649.80 629.80L1649.80 624.60L1667.20 594.80Z" fill="#008000"/><path d="M1670.30 604.70L1681.40 623.40L1659.20 623.40Z" fill="#ffffff"/><path d="M1721.80 593.90L1725.20 593.90L1726.60 594.80L1744.00 624.60L1744.00 629.80L1743.20 630.60L1703.80 630.60L1703.00 629.80L1703.00 624.60L1720.40 594.80Z" fill="#008000"/><path d="M1723.50 604.70L1734.60 623.40L1712.40 623.40Z" fill="#ffffff"/><path d="M1774.40 592.90L1777.80 592.90L1779.20 593.80L1796.60 623.60L1796.60 628.80L1795.80 629.60L1756.40 629.60L1755.60 628.80L1755.60 623.60L1773.00 593.80Z" fill="#008000"/><path d="M1776.10 603.70L1787.20 622.40L1765.00 622.40Z" fill="#ffffff"/><path d="M1827.30 591.80L1830.70 591.80L1832.10 592.70L1849.50 622.50L1849.50 627.70L1848.70 628.50L1809.30 628.50L1808.50 627.70L1808.50 622.50L1825.90 592.70Z" fill="#008000"/><path d="M1829.00 602.60L1840.10 621.30L1817.90 621.30Z" fill="#ffffff"/><path d="M1879.50 591.00L1882.90 591.00L1884.30 591.90L1901.70 621.70L1901.70 626.90L1900.90 627.70L1861.50 627.70L1860.70 626.90L1860.70 621.70L1878.10 591.90Z" fill="#008000"/><path d="M1881.20 601.80L1892.30 620.50L1870.10 620.50Z" fill="#ffffff"/><path d="M1933.50 590.00L1936.90 590.00L1938.30 590.90L1955.70 620.70L1955.70 625.90L1954.90 626.70L1915.50 626.70L1914.70 625.90L1914.70 620.70L1932.10 590.90Z" fill="#008000"/><path d="M1935.20 600.80L1946.30 619.50L1924.10 619.50Z" fill="#ffffff"/></g>
<polyline points="348.5,400.6 401.1,422.2 454.0,443.9 507.1,462.7 560.0,480.8 613.1,499.1 665.3,516.8 718.6,533.7 771.0,549.7 824.1,566.1 877.1,582.1 930.1,598.8 982.9,613.6 1035.3,629.2 1088.6,644.2 1141.1,659.7 1194.1,673.6 1247.6,688.6 1300.1,704.0 1353.4,718.2 1406.0,733.7 1458.9,747.7 1511.3,761.5 1564.8,776.0 1618.0,789.7 1670.3,802.8 1723.5,815.6 1776.1,825.4 1829.0,834.6 1881.2,843.6 1935.2,852.0" fill="none" stroke="#0000ff" stroke-width="6.0" stroke-linejoin="round"/>
<g><path d="M346.80 424.00L350.20 424.00L351.60 423.10L369.00 393.30L369.00 388.10L368.20 387.30L328.80 387.30L328.00 388.10L328.00 393.30L345.40 423.10Z" fill="#0000ff"/><path d="M399.40 445.60L402.80 445.60L404.20 444.70L421.60 414.90L421.60 409.70L420.80 408.90L381.40 408.90L380.60 409.70L380.60 414.90L398.00 444.70Z" fill="#0000ff"/><path d="M452.30 467.30L455.70 467.30L457.10 466.40L474.50 436.60L474.50 431.40L473.70 430.60L434.30 430.60L433.50 431.40L433.50 436.60L450.90 466.40Z" fill="#0000ff"/><path d="M505.40 486.10L508.80 486.10L510.20 485.20L527.60 455.40L527.60 450.20L526.80 449.40L487.40 449.40L486.60 450.20L486.60 455.40L504.00 485.20Z" fill="#0000ff"/><path d="M558.30 504.20L561.70 504.20L563.10 503.30L580.50 473.50L580.50 468.30L579.70 467.50L540.30 467.50L539.50 468.30L539.50 473.50L556.90 503.30Z" fill="#0000ff"/><path d="M611.40 522.50L614.80 522.50L616.20 521.60L633.60 491.80L633.60 486.60L632.80 485.80L593.40 485.80L592.60 486.60L592.60 491.80L610.00 521.60Z" fill="#0000ff"/><path d="M663.60 540.20L667.00 540.20L668.40 539.30L685.80 509.50L685.80 504.30L685.00 503.50L645.60 503.50L644.80 504.30L644.80 509.50L662.20 539.30Z" fill="#0000ff"/><path d="M716.90 557.10L720.30 557.10L721.70 556.20L739.10 526.40L739.10 521.20L738.30 520.40L698.90 520.40L698.10 521.20L698.10 526.40L715.50 556.20Z" fill="#0000ff"/><path d="M769.30 573.10L772.70 573.10L774.10 572.20L791.50 542.40L791.50 537.20L790.70 536.40L751.30 536.40L750.50 537.20L750.50 542.40L767.90 572.20Z" fill="#0000ff"/><path d="M822.40 589.50L825.80 589.50L827.20 588.60L844.60 558.80L844.60 553.60L843.80 552.80L804.40 552.80L803.60 553.60L803.60 558.80L821.00 588.60Z" fill="#0000ff"/><path d="M875.40 605.50L878.80 605.50L880.20 604.60L897.60 574.80L897.60 569.60L896.80 568.80L857.40 568.80L856.60 569.60L856.60 574.80L874.00 604.60Z" fill="#0000ff"/><path d="M928.40 622.20L931.80 622.20L933.20 621.30L950.60 591.50L950.60 586.30L949.80 585.50L910.40 585.50L909.60 586.30L909.60 591.50L927.00 621.30Z" fill="#0000ff"/><path d="M981.20 637.00L984.60 637.00L986.00 636.10L1003.40 606.30L1003.40 601.10L1002.60 600.30L963.20 600.30L962.40 601.10L962.40 606.30L979.80 636.10Z" fill="#0000ff"/><path d="M1033.60 652.60L1037.00 652.60L1038.40 651.70L1055.80 621.90L1055.80 616.70L1055.00 615.90L1015.60 615.90L1014.80 616.70L1014.80 621.90L1032.20 651.70Z" fill="#0000ff"/><path d="M1086.90 667.60L1090.30 667.60L1091.70 666.70L1109.10 636.90L1109.10 631.70L1108.30 630.90L1068.90 630.90L1068.10 631.70L1068.10 636.90L1085.50 666.70Z" fill="#0000ff"/><path d="M1139.40 683.10L1142.80 683.10L1144.20 682.20L1161.60 652.40L1161.60 647.20L1160.80 646.40L1121.40 646.40L1120.60 647.20L1120.60 652.40L1138.00 682.20Z" fill="#0000ff"/><path d="M1192.40 697.00L1195.80 697.00L1197.20 696.10L1214.60 666.30L1214.60 661.10L1213.80 660.30L1174.40 660.30L1173.60 661.10L1173.60 666.30L1191.00 696.10Z" fill="#0000ff"/><path d="M1245.90 712.00L1249.30 712.00L1250.70 711.10L1268.10 681.30L1268.10 676.10L1267.30 675.30L1227.90 675.30L1227.10 676.10L1227.10 681.30L1244.50 711.10Z" fill="#0000ff"/><path d="M1298.40 727.40L1301.80 727.40L1303.20 726.50L1320.60 696.70L1320.60 691.50L1319.80 690.70L1280.40 690.70L1279.60 691.50L1279.60 696.70L1297.00 726.50Z" fill="#0000ff"/><path d="M1351.70 741.60L1355.10 741.60L1356.50 740.70L1373.90 710.90L1373.90 705.70L1373.10 704.90L1333.70 704.90L1332.90 705.70L1332.90 710.90L1350.30 740.70Z" fill="#0000ff"/><path d="M1404.30 757.10L1407.70 757.10L1409.10 756.20L1426.50 726.40L1426.50 721.20L1425.70 720.40L1386.30 720.40L1385.50 721.20L1385.50 726.40L1402.90 756.20Z" fill="#0000ff"/><path d="M1457.20 771.10L1460.60 771.10L1462.00 770.20L1479.40 740.40L1479.40 735.20L1478.60 734.40L1439.20 734.40L1438.40 735.20L1438.40 740.40L1455.80 770.20Z" fill="#0000ff"/><path d="M1509.60 784.90L1513.00 784.90L1514.40 784.00L1531.80 754.20L1531.80 749.00L1531.00 748.20L1491.60 748.20L1490.80 749.00L1490.80 754.20L1508.20 784.00Z" fill="#0000ff"/><path d="M1563.10 799.40L1566.50 799.40L1567.90 798.50L1585.30 768.70L1585.30 763.50L1584.50 762.70L1545.10 762.70L1544.30 763.50L1544.30 768.70L1561.70 798.50Z" fill="#0000ff"/><path d="M1616.30 813.10L1619.70 813.10L1621.10 812.20L1638.50 782.40L1638.50 777.20L1637.70 776.40L1598.30 776.40L1597.50 777.20L1597.50 782.40L1614.90 812.20Z" fill="#0000ff"/><path d="M1668.60 826.20L1672.00 826.20L1673.40 825.30L1690.80 795.50L1690.80 790.30L1690.00 789.50L1650.60 789.50L1649.80 790.30L1649.80 795.50L1667.20 825.30Z" fill="#0000ff"/><path d="M1721.80 839.00L1725.20 839.00L1726.60 838.10L1744.00 808.30L1744.00 803.10L1743.20 802.30L1703.80 802.30L1703.00 803.10L1703.00 808.30L1720.40 838.10Z" fill="#0000ff"/><path d="M1774.40 848.80L1777.80 848.80L1779.20 847.90L1796.60 818.10L1796.60 812.90L1795.80 812.10L1756.40 812.10L1755.60 812.90L1755.60 818.10L1773.00 847.90Z" fill="#0000ff"/><path d="M1827.30 858.00L1830.70 858.00L1832.10 857.10L1849.50 827.30L1849.50 822.10L1848.70 821.30L1809.30 821.30L1808.50 822.10L1808.50 827.30L1825.90 857.10Z" fill="#0000ff"/><path d="M1879.50 867.00L1882.90 867.00L1884.30 866.10L1901.70 836.30L1901.70 831.10L1900.90 830.30L1861.50 830.30L1860.70 831.10L1860.70 836.30L1878.10 866.10Z" fill="#0000ff"/><path d="M1933.50 875.40L1936.90 875.40L1938.30 874.50L1955.70 844.70L1955.70 839.50L1954.90 838.70L1915.50 838.70L1914.70 839.50L1914.70 844.70L1932.10 874.50Z" fill="#0000ff"/></g>
<polyline points="348.5,846.7 401.1,858.2 454.0,868.3 507.1,877.0 560.0,887.6 613.1,896.8 665.3,904.9 718.6,913.9 771.0,922.1 824.1,931.2 877.1,939.1 930.1,947.0 982.9,955.6 1035.3,963.3 1088.6,971.6 1141.1,979.7 1194.1,988.0 1247.6,996.0 1300.1,1005.1 1353.4,1013.0 1406.0,1021.1 1458.9,1030.8 1511.3,1040.0 1564.8,1048.9 1618.0,1057.9 1670.3,1067.0 1723.5,1076.1 1776.1,1085.1 1829.0,1094.1 1881.2,1101.7 1935.2,1108.9" fill="none" stroke="#0000ff" stroke-width="6.0" stroke-linejoin="round"/>
<g><path d="M346.80 870.10L350.20 870.10L351.60 869.20L369.00 839.40L369.00 834.20L368.20 833.40L328.80 833.40L328.00 834.20L328.00 839.40L345.40 869.20Z" fill="#0000ff"/><path d="M348.50 859.30L359.60 840.60L337.40 840.60Z" fill="#ffffff"/><path d="M399.40 881.60L402.80 881.60L404.20 880.70L421.60 850.90L421.60 845.70L420.80 844.90L381.40 844.90L380.60 845.70L380.60 850.90L398.00 880.70Z" fill="#0000ff"/><path d="M401.10 870.80L412.20 852.10L390.00 852.10Z" fill="#ffffff"/><path d="M452.30 891.70L455.70 891.70L457.10 890.80L474.50 861.00L474.50 855.80L473.70 855.00L434.30 855.00L433.50 855.80L433.50 861.00L450.90 890.80Z" fill="#0000ff"/><path d="M454.00 880.90L465.10 862.20L442.90 862.20Z" fill="#ffffff"/><path d="M505.40 900.40L508.80 900.40L510.20 899.50L527.60 869.70L527.60 864.50L526.80 863.70L487.40 863.70L486.60 864.50L486.60 869.70L504.00 899.50Z" fill="#0000ff"/><path d="M507.10 889.60L518.20 870.90L496.00 870.90Z" fill="#ffffff"/><path d="M558.30 911.00L561.70 911.00L563.10 910.10L580.50 880.30L580.50 875.10L579.70 874.30L540.30 874.30L539.50 875.10L539.50 880.30L556.90 910.10Z" fill="#0000ff"/><path d="M560.00 900.20L571.10 881.50L548.90 881.50Z" fill="#ffffff"/><path d="M611.40 920.20L614.80 920.20L616.20 919.30L633.60 889.50L633.60 884.30L632.80 883.50L593.40 883.50L592.60 884.30L592.60 889.50L610.00 919.30Z" fill="#0000ff"/><path d="M613.10 909.40L624.20 890.70L602.00 890.70Z" fill="#ffffff"/><path d="M663.60 928.30L667.00 928.30L668.40 927.40L685.80 897.60L685.80 892.40L685.00 891.60L645.60 891.60L644.80 892.40L644.80 897.60L662.20 927.40Z" fill="#0000ff"/><path d="M665.30 917.50L676.40 898.80L654.20 898.80Z" fill="#ffffff"/><path d="M716.90 937.30L720.30 937.30L721.70 936.40L739.10 906.60L739.10 901.40L738.30 900.60L698.90 900.60L698.10 901.40L698.10 906.60L715.50 936.40Z" fill="#0000ff"/><path d="M718.60 926.50L729.70 907.80L707.50 907.80Z" fill="#ffffff"/><path d="M769.30 945.50L772.70 945.50L774.10 944.60L791.50 914.80L791.50 909.60L790.70 908.80L751.30 908.80L750.50 909.60L750.50 914.80L767.90 944.60Z" fill="#0000ff"/><path d="M771.00 934.70L782.10 916.00L759.90 916.00Z" fill="#ffffff"/><path d="M822.40 954.60L825.80 954.60L827.20 953.70L844.60 923.90L844.60 918.70L843.80 917.90L804.40 917.90L803.60 918.70L803.60 923.90L821.00 953.70Z" fill="#0000ff"/><path d="M824.10 943.80L835.20 925.10L813.00 925.10Z" fill="#ffffff"/><path d="M875.40 962.50L878.80 962.50L880.20 961.60L897.60 931.80L897.60 926.60L896.80 925.80L857.40 925.80L856.60 926.60L856.60 931.80L874.00 961.60Z" fill="#0000ff"/><path d="M877.10 951.70L888.20 933.00L866.00 933.00Z" fill="#ffffff"/><path d="M928.40 970.40L931.80 970.40L933.20 969.50L950.60 939.70L950.60 934.50L949.80 933.70L910.40 933.70L909.60 934.50L909.60 939.70L927.00 969.50Z" fill="#0000ff"/><path d="M930.10 959.60L941.20 940.90L919.00 940.90Z" fill="#ffffff"/><path d="M981.20 979.00L984.60 979.00L986.00 978.10L1003.40 948.30L1003.40 943.10L1002.60 942.30L963.20 942.30L962.40 943.10L962.40 948.30L979.80 978.10Z" fill="#0000ff"/><path d="M982.90 968.20L994.00 949.50L971.80 949.50Z" fill="#ffffff"/><path d="M1033.60 986.70L1037.00 986.70L1038.40 985.80L1055.80 956.00L1055.80 950.80L1055.00 950.00L1015.60 950.00L1014.80 950.80L1014.80 956.00L1032.20 985.80Z" fill="#0000ff"/><path d="M1035.30 975.90L1046.40 957.20L1024.20 957.20Z" fill="#ffffff"/><path d="M1086.90 995.00L1090.30 995.00L1091.70 994.10L1109.10 964.30L1109.10 959.10L1108.30 958.30L1068.90 958.30L1068.10 959.10L1068.10 964.30L1085.50 994.10Z" fill="#0000ff"/><path d="M1088.60 984.20L1099.70 965.50L1077.50 965.50Z" fill="#ffffff"/><path d="M1139.40 1003.10L1142.80 1003.10L1144.20 1002.20L1161.60 972.40L1161.60 967.20L1160.80 966.40L1121.40 966.40L1120.60 967.20L1120.60 972.40L1138.00 1002.20Z" fill="#0000ff"/><path d="M1141.10 992.30L1152.20 973.60L1130.00 973.60Z" fill="#ffffff"/><path d="M1192.40 1011.40L1195.80 1011.40L1197.20 1010.50L1214.60 980.70L1214.60 975.50L1213.80 974.70L1174.40 974.70L1173.60 975.50L1173.60 980.70L1191.00 1010.50Z" fill="#0000ff"/><path d="M1194.10 1000.60L1205.20 981.90L1183.00 981.90Z" fill="#ffffff"/><path d="M1245.90 1019.40L1249.30 1019.40L1250.70 1018.50L1268.10 988.70L1268.10 983.50L1267.30 982.70L1227.90 982.70L1227.10 983.50L1227.10 988.70L1244.50 1018.50Z" fill="#0000ff"/><path d="M1247.60 1008.60L1258.70 989.90L1236.50 989.90Z" fill="#ffffff"/><path d="M1298.40 1028.50L1301.80 1028.50L1303.20 1027.60L1320.60 997.80L1320.60 992.60L1319.80 991.80L1280.40 991.80L1279.60 992.60L1279.60 997.80L1297.00 1027.60Z" fill="#0000ff"/><path d="M1300.10 1017.70L1311.20 999.00L1289.00 999.00Z" fill="#ffffff"/><path d="M1351.70 1036.40L1355.10 1036.40L1356.50 1035.50L1373.90 1005.70L1373.90 1000.50L1373.10 999.70L1333.70 999.70L1332.90 1000.50L1332.90 1005.70L1350.30 1035.50Z" fill="#0000ff"/><path d="M1353.40 1025.60L1364.50 1006.90L1342.30 1006.90Z" fill="#ffffff"/><path d="M1404.30 1044.50L1407.70 1044.50L1409.10 1043.60L1426.50 1013.80L1426.50 1008.60L1425.70 1007.80L1386.30 1007.80L1385.50 1008.60L1385.50 1013.80L1402.90 1043.60Z" fill="#0000ff"/><path d="M1406.00 1033.70L1417.10 1015.00L1394.90 1015.00Z" fill="#ffffff"/><path d="M1457.20 1054.20L1460.60 1054.20L1462.00 1053.30L1479.40 1023.50L1479.40 1018.30L1478.60 1017.50L1439.20 1017.50L1438.40 1018.30L1438.40 1023.50L1455.80 1053.30Z" fill="#0000ff"/><path d="M1458.90 1043.40L1470.00 1024.70L1447.80 1024.70Z" fill="#ffffff"/><path d="M1509.60 1063.40L1513.00 1063.40L1514.40 1062.50L1531.80 1032.70L1531.80 1027.50L1531.00 1026.70L1491.60 1026.70L1490.80 1027.50L1490.80 1032.70L1508.20 1062.50Z" fill="#0000ff"/><path d="M1511.30 1052.60L1522.40 1033.90L1500.20 1033.90Z" fill="#ffffff"/><path d="M1563.10 1072.30L1566.50 1072.30L1567.90 1071.40L1585.30 1041.60L1585.30 1036.40L1584.50 1035.60L1545.10 1035.60L1544.30 1036.40L1544.30 1041.60L1561.70 1071.40Z" fill="#0000ff"/><path d="M1564.80 1061.50L1575.90 1042.80L1553.70 1042.80Z" fill="#ffffff"/><path d="M1616.30 1081.30L1619.70 1081.30L1621.10 1080.40L1638.50 1050.60L1638.50 1045.40L1637.70 1044.60L1598.30 1044.60L1597.50 1045.40L1597.50 1050.60L1614.90 1080.40Z" fill="#0000ff"/><path d="M1618.00 1070.50L1629.10 1051.80L1606.90 1051.80Z" fill="#ffffff"/><path d="M1668.60 1090.40L1672.00 1090.40L1673.40 1089.50L1690.80 1059.70L1690.80 1054.50L1690.00 1053.70L1650.60 1053.70L1649.80 1054.50L1649.80 1059.70L1667.20 1089.50Z" fill="#0000ff"/><path d="M1670.30 1079.60L1681.40 1060.90L1659.20 1060.90Z" fill="#ffffff"/><path d="M1721.80 1099.50L1725.20 1099.50L1726.60 1098.60L1744.00 1068.80L1744.00 1063.60L1743.20 1062.80L1703.80 1062.80L1703.00 1063.60L1703.00 1068.80L1720.40 1098.60Z" fill="#0000ff"/><path d="M1723.50 1088.70L1734.60 1070.00L1712.40 1070.00Z" fill="#ffffff"/><path d="M1774.40 1108.50L1777.80 1108.50L1779.20 1107.60L1796.60 1077.80L1796.60 1072.60L1795.80 1071.80L1756.40 1071.80L1755.60 1072.60L1755.60 1077.80L1773.00 1107.60Z" fill="#0000ff"/><path d="M1776.10 1097.70L1787.20 1079.00L1765.00 1079.00Z" fill="#ffffff"/><path d="M1827.30 1117.50L1830.70 1117.50L1832.10 1116.60L1849.50 1086.80L1849.50 1081.60L1848.70 1080.80L1809.30 1080.80L1808.50 1081.60L1808.50 1086.80L1825.90 1116.60Z" fill="#0000ff"/><path d="M1829.00 1106.70L1840.10 1088.00L1817.90 1088.00Z" fill="#ffffff"/><path d="M1879.50 1125.10L1882.90 1125.10L1884.30 1124.20L1901.70 1094.40L1901.70 1089.20L1900.90 1088.40L1861.50 1088.40L1860.70 1089.20L1860.70 1094.40L1878.10 1124.20Z" fill="#0000ff"/><path d="M1881.20 1114.30L1892.30 1095.60L1870.10 1095.60Z" fill="#ffffff"/><path d="M1933.50 1132.30L1936.90 1132.30L1938.30 1131.40L1955.70 1101.60L1955.70 1096.40L1954.90 1095.60L1915.50 1095.60L1914.70 1096.40L1914.70 1101.60L1932.10 1131.40Z" fill="#0000ff"/><path d="M1935.20 1121.50L1946.30 1102.80L1924.10 1102.80Z" fill="#ffffff"/></g>
<rect x="306.2" y="964.80" width="195.0" height="6.0" rx="2.4" fill="#ff0000"/>
<rect x="387.90" y="952.80" width="30.4" height="30.4" rx="2.2" fill="#ff0000"/>
<rect x="306.2" y="1069.80" width="195.0" height="6.0" rx="2.4" fill="#ff0000"/>
<rect x="387.90" y="1057.50" width="30.4" height="30.4" rx="2.2" fill="#ff0000"/><rect x="394.90" y="1064.50" width="16.4" height="16.4" fill="#ffffff"/>
<rect x="306.2" y="1174.30" width="195.0" height="6.0" rx="2.4" fill="#ff8000"/>
<circle cx="402.60" cy="1177.00" r="17.1" fill="#ff8000"/>
<rect x="306.2" y="1279.00" width="195.0" height="6.0" rx="2.4" fill="#ff8000"/>
<circle cx="402.70" cy="1281.50" r="17.1" fill="#ff8000"/><circle cx="402.70" cy="1281.50" r="10.15" fill="#ffffff"/>
<rect x="771.1" y="1179.10" width="194.9" height="6.0" rx="2.4" fill="#008000"/>
<path d="M866.80 1158.70L870.20 1158.70L871.60 1159.60L889.00 1189.40L889.00 1194.60L888.20 1195.40L848.80 1195.40L848.00 1194.60L848.00 1189.40L865.40 1159.60Z" fill="#008000"/>
<rect x="771.1" y="1284.40" width="194.9" height="6.0" rx="2.4" fill="#008000"/>
<path d="M866.90 1264.00L870.30 1264.00L871.70 1264.90L889.10 1294.70L889.10 1299.90L888.30 1300.70L848.90 1300.70L848.10 1299.90L848.10 1294.70L865.50 1264.90Z" fill="#008000"/><path d="M868.60 1274.80L879.70 1293.50L857.50 1293.50Z" fill="#ffffff"/>
<rect x="1322.4" y="1182.60" width="194.4" height="6.0" rx="2.4" fill="#0000ff"/>
<path d="M1416.80 1209.00L1420.20 1209.00L1421.60 1208.10L1439.00 1178.30L1439.00 1173.10L1438.20 1172.30L1398.80 1172.30L1398.00 1173.10L1398.00 1178.30L1415.40 1208.10Z" fill="#0000ff"/>
<rect x="1322.4" y="1287.00" width="194.4" height="6.0" rx="2.4" fill="#0000ff"/>
<path d="M1416.80 1313.40L1420.20 1313.40L1421.60 1312.50L1439.00 1282.70L1439.00 1277.50L1438.20 1276.70L1398.80 1276.70L1398.00 1277.50L1398.00 1282.70L1415.40 1312.50Z" fill="#0000ff"/><path d="M1418.50 1302.60L1429.60 1283.90L1407.40 1283.90Z" fill="#ffffff"/>
<g fill="#000000">
<g transform="translate(149.06 178.00) scale(0.9440 1)"><text font-size="80.6" letter-spacing="-0.978" style="font-kerning:none" font-family="'Liberation Sans', sans-serif" font-weight="bold">0.5</text></g>
<g transform="translate(149.06 403.80) scale(0.9440 1)"><text font-size="80.6" letter-spacing="-1.355" style="font-kerning:none" font-family="'Liberation Sans', sans-serif" font-weight="bold">0.4</text></g>
<g transform="translate(149.06 629.60) scale(0.9440 1)"><text font-size="80.6" letter-spacing="-0.676" style="font-kerning:none" font-family="'Liberation Sans', sans-serif" font-weight="bold">0.3</text></g>
<g transform="translate(149.06 855.40) scale(0.9440 1)"><text font-size="80.6" letter-spacing="-0.845" style="font-kerning:none" font-family="'Liberation Sans', sans-serif" font-weight="bold">0.2</text></g>
<g transform="translate(149.06 1081.20) scale(0.9440 1)"><clipPath id="k1"><path clip-rule="evenodd" d="M-40 -88.7H175.3V32.2H-40ZM72.37 -9.63H87.50V1.50H72.37ZM98.56 -9.63H112.67V1.50H98.56Z"/></clipPath><text font-size="80.6" letter-spacing="0.737" style="font-kerning:none" clip-path="url(#k1)" font-family="'Liberation Sans', sans-serif" font-weight="bold">0.1</text></g>
<g transform="translate(149.06 1307.00) scale(0.9440 1)"><text font-size="80.6" letter-spacing="-0.845" style="font-kerning:none" font-family="'Liberation Sans', sans-serif" font-weight="bold">0.0</text></g>
<g transform="translate(297.86 1446.20) scale(0.9420 1)"><text font-size="80.6" letter-spacing="-0.788" style="font-kerning:none" font-family="'Liberation Sans', sans-serif" font-weight="bold">0.2</text></g>
<g transform="translate(699.16 1446.20) scale(0.9420 1)"><text font-size="80.6" letter-spacing="-1.562" style="font-kerning:none" font-family="'Liberation Sans', sans-serif" font-weight="bold">0.4</text></g>
<g transform="translate(1099.56 1446.20) scale(0.9420 1)"><text font-size="80.6" letter-spacing="-0.193" style="font-kerning:none" font-family="'Liberation Sans', sans-serif" font-weight="bold">0.6</text></g>
<g transform="translate(1502.66 1446.20) scale(0.9420 1)"><text font-size="80.6" letter-spacing="-1.138" style="font-kerning:none" font-family="'Liberation Sans', sans-serif" font-weight="bold">0.8</text></g>
<g transform="translate(1904.81 1446.20) scale(0.9420 1)"><clipPath id="k2"><path clip-rule="evenodd" d="M-40 -88.7H180.8V32.2H-40ZM3.68 -9.63H18.81V1.50H3.68ZM29.87 -9.63H43.98V1.50H29.87Z"/></clipPath><text font-size="80.6" letter-spacing="-1.185" style="font-kerning:none" clip-path="url(#k2)" font-family="'Liberation Sans', sans-serif" font-weight="bold">1.0</text></g>
<g transform="translate(1031.86 1599.00) scale(0.9280 1)"><text font-size="97.2" letter-spacing="-1.191" style="font-kerning:none" font-family="'Liberation Sans', sans-serif" font-weight="bold">RTIP</text></g>
<g transform="translate(516.49 996.50) scale(0.9400 1)"><text font-size="72.6" letter-spacing="-2.062" style="font-kerning:none" font-family="'Liberation Sans', sans-serif" font-weight="bold">R22</text></g>
<g transform="translate(516.39 1101.00) scale(0.9400 1)"><clipPath id="k3"><path clip-rule="evenodd" d="M-40 -79.9H278.0V29.0H-40ZM53.33 -8.81H67.10V1.50H53.33ZM77.06 -8.81H89.91V1.50H77.06Z"/></clipPath><text font-size="72.6" letter-spacing="-2.277" style="font-kerning:none" clip-path="url(#k3)" font-family="'Liberation Sans', sans-serif" font-weight="bold">R134<tspan font-size="68.32">a</tspan></text></g>
<g transform="translate(516.49 1205.80) scale(0.9400 1)"><clipPath id="k4"><path clip-rule="evenodd" d="M-40 -79.9H277.0V29.0H-40ZM53.09 -8.81H66.86V1.50H53.09ZM76.82 -8.81H89.67V1.50H76.82Z"/></clipPath><text font-size="72.6" letter-spacing="-2.517" style="font-kerning:none" clip-path="url(#k4)" font-family="'Liberation Sans', sans-serif" font-weight="bold">R152<tspan font-size="68.32">a</tspan></text></g>
<g transform="translate(982.19 1315.10) scale(0.9400 1)"><text font-size="72.6" letter-spacing="-1.840" style="font-kerning:none" font-family="'Liberation Sans', sans-serif" font-weight="bold">R245<tspan font-size="68.32">fa</tspan></text></g>
<g transform="translate(1531.89 1214.10) scale(0.9400 1)"><clipPath id="k5"><path clip-rule="evenodd" d="M-40 -79.9H240.9V29.0H-40ZM53.87 -8.81H67.65V1.50H53.87ZM77.61 -8.81H90.46V1.50H77.61Z"/></clipPath><text font-size="72.6" letter-spacing="-1.728" style="font-kerning:none" clip-path="url(#k5)" font-family="'Liberation Sans', sans-serif" font-weight="bold">R123</text></g>
<g transform="translate(516.57 1309.00) scale(1.0200 1)"><text font-size="68.3" letter-spacing="-2.573" style="font-kerning:none" font-family="'Liberation Sans', sans-serif" font-weight="bold">propane</text></g>
<g transform="translate(981.92 1210.30) scale(1.0200 1)"><text font-size="68.3" letter-spacing="-2.156" style="font-kerning:none" font-family="'Liberation Sans', sans-serif" font-weight="bold">isobutane</text></g>
<g transform="translate(1531.62 1317.70) scale(1.0200 1)"><text font-size="68.3" letter-spacing="-2.172" style="font-kerning:none" font-family="'Liberation Sans', sans-serif" font-weight="bold">isopentane</text></g>
<g transform="translate(80 925.6) rotate(-90) scale(0.983 1)">
<text font-size="94.2" style="font-kerning:none" font-family="'Liberation Sans', sans-serif" font-weight="bold"><tspan x="-6.12" y="0">m</tspan><tspan x="79.42" y="35.8" font-size="69.5">w</tspan><tspan x="134.40" y="0">, </tspan><tspan x="188.52 240.89 297.74 322.75" y="0">kg/s</tspan></text>
</g>
</g>
</svg>
</body></html>
